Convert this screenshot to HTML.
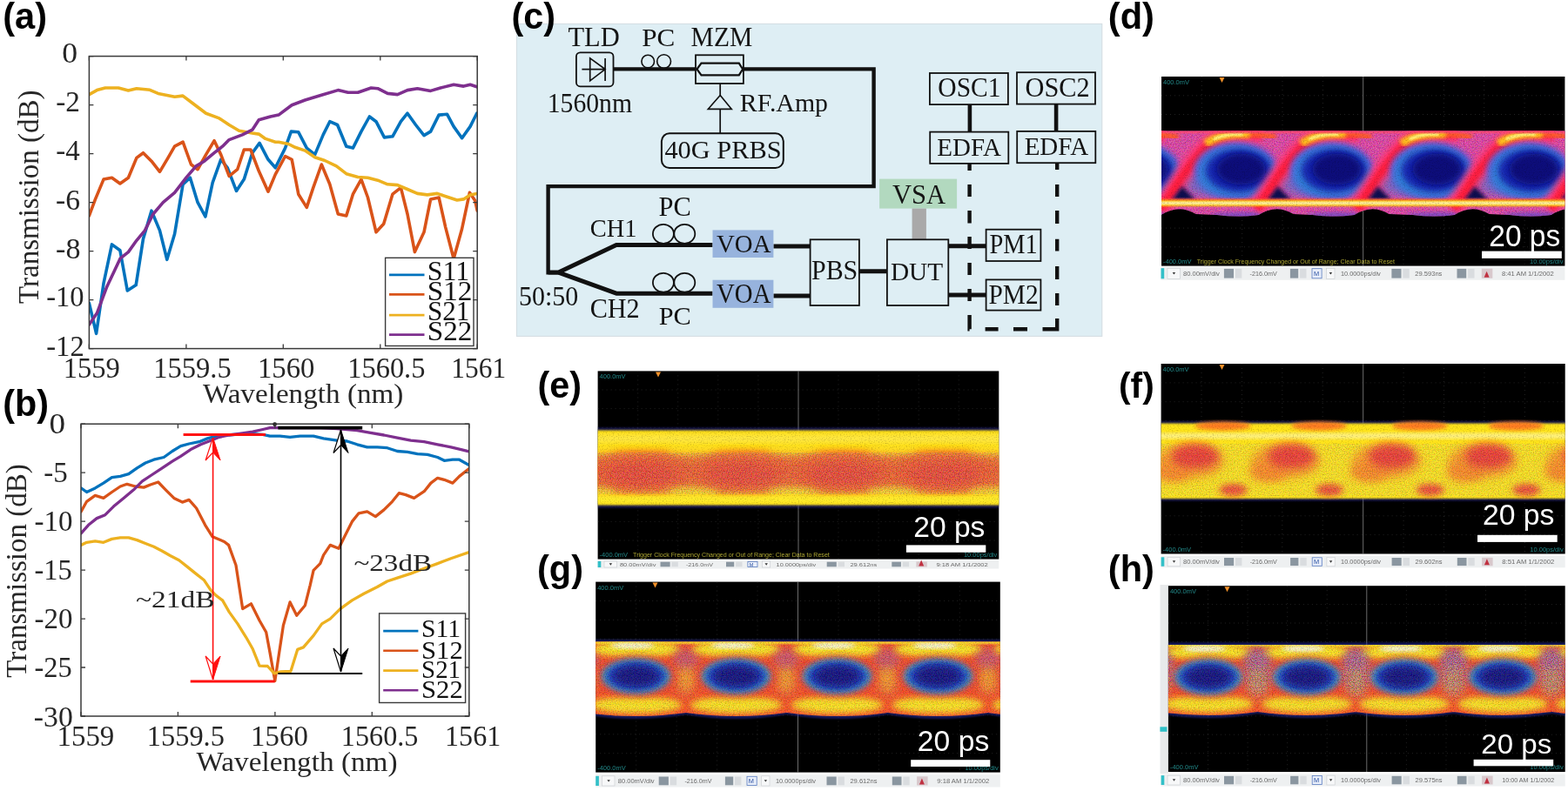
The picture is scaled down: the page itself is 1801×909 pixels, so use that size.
<!DOCTYPE html>
<html><head><meta charset="utf-8"><title>Figure</title>
<style>
html,body{margin:0;padding:0;background:#fff;}
body{width:1801px;height:909px;overflow:hidden;}
svg{display:block;}
</style></head>
<body>
<svg width="1801" height="909" viewBox="0 0 1801 909">
<rect width="1801" height="909" fill="#fff"/>
<defs>
<filter id="b1" x="-20%" y="-20%" width="140%" height="140%"><feGaussianBlur stdDeviation="1.2"/></filter>
<filter id="b2" x="-20%" y="-20%" width="140%" height="140%"><feGaussianBlur stdDeviation="2.2"/></filter>
<filter id="b3" x="-30%" y="-30%" width="160%" height="160%"><feGaussianBlur stdDeviation="3.5"/></filter>
<filter id="b5" x="-30%" y="-30%" width="160%" height="160%"><feGaussianBlur stdDeviation="5"/></filter>
<filter id="nz" x="0" y="0" width="100%" height="100%">
  <feTurbulence type="fractalNoise" baseFrequency="0.75" numOctaves="1" seed="7"/>
  <feColorMatrix type="matrix" values="0 0 0 0 0  0 0 0 0 0  0 0 0 0 0  0 0 0 -3.2 1.55"/>
</filter>
<filter id="cn" x="0" y="0" width="100%" height="100%">
  <feTurbulence type="fractalNoise" baseFrequency="0.85" numOctaves="1" seed="5"/>
  <feColorMatrix type="matrix" values="6 0 0 0 -2.5  0 6 0 0 -2.5  0 0 6 0 -2.5  0 0 0 0 1"/>
  <feComposite in2="SourceAlpha" operator="in"/>
</filter>
<filter id="cns" x="-20%" y="-20%" width="140%" height="140%">
  <feGaussianBlur in="SourceAlpha" stdDeviation="5" result="m"/>
  <feTurbulence type="fractalNoise" baseFrequency="0.85" numOctaves="1" seed="9"/>
  <feColorMatrix type="matrix" values="6 0 0 0 -2.5  0 6 0 0 -2.5  0 0 6 0 -2.5  0 0 0 0 1"/>
  <feComposite in2="m" operator="in"/>
</filter>
<filter id="nzc" x="0" y="0" width="100%" height="100%">
  <feTurbulence type="fractalNoise" baseFrequency="0.7" numOctaves="1" seed="11"/>
  <feColorMatrix type="matrix" values="0 0 0 0 0.25  0 0 0 0 0.85  0 0 0 0 0.9  0 0 0 -4 1.6"/>
</filter>
<clipPath id="clipA"><rect x="102.4" y="64.6" width="445.8" height="336"/></clipPath><clipPath id="clipB"><rect x="93" y="487.2" width="445.8" height="335.8"/></clipPath><clipPath id="clipD"><rect x="1334" y="88" width="463.4" height="217.6"/></clipPath><clipPath id="clipE"><rect x="686.6" y="426.4" width="460.7" height="216.2"/></clipPath><clipPath id="clipF"><rect x="1333.6" y="418" width="464.1" height="218.5"/></clipPath><clipPath id="clipG"><rect x="684.2" y="668.6" width="464.6" height="219.0"/></clipPath><clipPath id="clipH"><rect x="1341.9" y="673.2" width="455.8" height="213.8"/></clipPath><clipPath id="bandD"><path d="M1320,150.5H1810V246L1933.0,246 Q1913.0,234 1893.0,247 Q1870.0,250 1845.0,247L1821.7,246 Q1801.7,234 1781.7,247 Q1758.7,250 1733.7,247L1710.5,246 Q1690.5,234 1670.5,247 Q1647.5,250 1622.5,247L1595.5,246 Q1575.5,234 1555.5,247 Q1532.5,250 1507.5,247L1485.6,246 Q1465.6,234 1445.6,247 Q1422.6,250 1397.6,247L1373.6,246 Q1353.6,234 1333.6,247 Q1310.6,250 1285.6,247L1320,246Z"/></clipPath></defs>
<g clip-path="url(#clipA)">
<polyline points="102.4,348.4 110.6,383.3 119.0,325.7 128.5,280.9 137.9,287.7 146.3,334.0 156.2,327.6 164.5,274.4 174.0,242.2 183.5,264.9 191.8,298.3 200.6,268.7 210.1,211.8 218.4,204.2 227.1,232.7 235.9,249.0 244.2,209.9 253.7,183.3 261.3,192.8 271.5,219.4 280.3,206.1 289.8,175.7 298.1,164.4 308.0,183.3 316.3,192.8 327.6,170.1 334.4,151.1 342.8,151.8 352.3,170.1 361.7,177.6 371.2,154.9 378.8,139.7 387.6,143.5 397.8,168.2 405.4,170.1 414.9,151.1 424.4,134.0 432.0,139.7 441.4,157.9 450.9,156.8 460.4,139.7 468.0,130.2 477.5,143.5 487.0,155.6 494.6,151.1 504.1,132.1 513.6,131.3 521.1,145.4 530.6,158.7 540.1,145.4 547.7,130.2" fill="none" stroke="#0072BD" stroke-width="3.6" stroke-linejoin="round" stroke-linecap="round"/>
<polyline points="102.4,247.9 109.5,228.9 119.0,206.1 128.5,204.2 137.9,211.0 147.4,204.2 156.9,181.4 164.5,175.7 174.0,185.2 183.5,197.4 193.0,181.4 200.6,168.2 210.1,163.2 219.5,189.0 227.1,194.7 236.6,177.6 246.1,161.7 253.7,177.6 263.2,202.3 272.7,194.7 280.3,172.0 287.9,172.0 297.3,196.6 308.0,220.2 316.3,200.4 327.6,179.5 335.2,183.3 342.8,223.2 352.3,238.4 359.8,215.6 369.3,189.0 378.8,211.8 388.3,246.0 397.8,247.9 405.4,223.2 414.9,206.1 422.5,227.0 432.0,266.8 440.7,257.3 450.9,223.2 460.4,215.6 468.0,246.0 476.4,289.6 487.0,266.8 494.6,228.9 504.1,227.0 511.7,261.1 521.1,297.2 530.6,263.0 539.4,221.3 545.8,230.8 548.2,242.2" fill="none" stroke="#D95319" stroke-width="3.6" stroke-linejoin="round" stroke-linecap="round"/>
<polyline points="102.4,108.6 111.4,103.6 120.9,101.0 136.0,101.0 147.4,104.0 156.9,101.7 172.1,103.3 181.6,107.4 200.6,111.2 210.0,110.1 221.4,118.8 236.6,130.2 251.8,135.9 263.2,143.5 274.6,150.3 289.8,153.0 297.3,154.1 304.9,159.4 316.3,163.2 320.0,163.2 331.4,165.5 339.0,169.3 350.4,173.1 361.7,180.7 373.1,184.5 386.4,190.9 397.8,199.7 411.1,203.5 422.5,204.2 433.9,207.2 445.2,211.8 456.6,212.6 468.0,217.5 479.4,222.4 490.8,223.9 502.2,222.4 513.6,226.2 525.0,230.0 532.5,228.9 540.1,223.9 547.7,222.4" fill="none" stroke="#EDB120" stroke-width="3.6" stroke-linejoin="round" stroke-linecap="round"/>
<polyline points="102.4,373.1 111.4,359.8 122.8,329.4 138.0,297.2 147.4,289.6 156.9,276.3 166.4,264.9 175.9,246.0 187.3,232.7 200.6,221.3 213.9,204.2 225.2,190.9 234.7,185.2 246.1,175.7 255.6,168.2 263.2,160.6 278.4,154.9 289.8,149.2 297.3,137.8 310.6,134.0 320.0,132.1 335.2,120.7 350.4,115.0 369.3,109.3 388.3,103.6 399.7,106.3 411.1,106.3 426.3,101.0 433.9,101.7 445.2,107.4 456.6,108.6 468.0,103.6 479.4,101.7 494.6,104.4 506.0,101.0 521.1,97.2 532.5,99.1 540.1,97.2 547.7,99.8" fill="none" stroke="#7E2F8E" stroke-width="3.6" stroke-linejoin="round" stroke-linecap="round"/>
</g>
<rect x="442.6" y="296.3" width="101.4" height="101.2" fill="#fff" stroke="#3a3a3a" stroke-width="1.4"/>
<line x1="447" y1="315.9" x2="487.5" y2="315.9" stroke="#0072BD" stroke-width="2.6"/>
<line x1="447" y1="338.4" x2="487.5" y2="338.4" stroke="#D95319" stroke-width="2.6"/>
<line x1="447" y1="362.1" x2="487.5" y2="362.1" stroke="#EDB120" stroke-width="2.6"/>
<line x1="447" y1="384.6" x2="487.5" y2="384.6" stroke="#7E2F8E" stroke-width="2.6"/>
<text transform="translate(490.83,321.88) scale(0.9941,1)" font-family='"Liberation Serif", serif' font-weight="normal" font-size="32.09" fill="#111">S11</text>
<text transform="translate(490.74,345.28) scale(1.0359,1)" font-family='"Liberation Serif", serif' font-weight="normal" font-size="32.09" fill="#111">S12</text>
<text transform="translate(490.88,368.09) scale(0.9976,1)" font-family='"Liberation Serif", serif' font-weight="normal" font-size="31.19" fill="#111">S21</text>
<text transform="translate(490.74,391.49) scale(1.0656,1)" font-family='"Liberation Serif", serif' font-weight="normal" font-size="31.19" fill="#111">S22</text>
<rect x="102.4" y="64.6" width="445.80000000000007" height="336.0" fill="none" stroke="#3a3a3a" stroke-width="1.5"/>
<path d="M102.4,64.6h5M548.2,64.6h-5M102.4,120.6h5M548.2,120.6h-5M102.4,176.6h5M548.2,176.6h-5M102.4,232.6h5M548.2,232.6h-5M102.4,288.6h5M548.2,288.6h-5M102.4,344.6h5M548.2,344.6h-5M102.4,400.6h5M548.2,400.6h-5M102.4,400.6v-5M102.4,64.6v5M213.9,400.6v-5M213.9,64.6v5M325.3,400.6v-5M325.3,64.6v5M436.8,400.6v-5M436.8,64.6v5M548.2,400.6v-5M548.2,64.6v5" stroke="#3a3a3a" stroke-width="1.3" fill="none"/>
<text transform="translate(71.17,72.37) scale(1.0810,1)" font-family='"Liberation Serif", serif' font-weight="normal" font-size="33.04" fill="#262626">0</text>
<text transform="translate(64.13,128.20) scale(1.0078,1)" font-family='"Liberation Serif", serif' font-weight="normal" font-size="33.03" fill="#262626">-2</text>
<text transform="translate(64.15,184.30) scale(0.9809,1)" font-family='"Liberation Serif", serif' font-weight="normal" font-size="33.64" fill="#262626">-4</text>
<text transform="translate(64.12,240.96) scale(1.0016,1)" font-family='"Liberation Serif", serif' font-weight="normal" font-size="33.58" fill="#262626">-6</text>
<text transform="translate(64.11,296.77) scale(1.0315,1)" font-family='"Liberation Serif", serif' font-weight="normal" font-size="33.04" fill="#262626">-8</text>
<text transform="translate(53.26,352.37) scale(0.9849,1)" font-family='"Liberation Serif", serif' font-weight="normal" font-size="33.04" fill="#262626">-10</text>
<text transform="translate(53.26,408.60) scale(0.9652,1)" font-family='"Liberation Serif", serif' font-weight="normal" font-size="33.79" fill="#262626">-12</text>
<text transform="translate(72.73,434.06) scale(0.9618,1)" font-family='"Liberation Serif", serif' font-weight="normal" font-size="33.88" fill="#262626">1559</text>
<text transform="translate(176.13,433.90) scale(0.9685,1)" font-family='"Liberation Serif", serif' font-weight="normal" font-size="33.63" fill="#262626">1559.5</text>
<text transform="translate(295.92,434.06) scale(0.9737,1)" font-family='"Liberation Serif", serif' font-weight="normal" font-size="33.63" fill="#262626">1560</text>
<text transform="translate(399.24,433.90) scale(0.9723,1)" font-family='"Liberation Serif", serif' font-weight="normal" font-size="33.38" fill="#262626">1560.5</text>
<text transform="translate(518.33,434.06) scale(0.9276,1)" font-family='"Liberation Serif", serif' font-weight="normal" font-size="33.88" fill="#262626">1561</text>
<text transform="translate(233.00,462.77) scale(1.0446,1)" font-family='"Liberation Serif", serif' font-weight="normal" font-size="31.76" fill="#262626">Wavelength (nm)</text>
<text transform="translate(43.68,348.96) rotate(-90) scale(1.0112,1)" font-family='"Liberation Serif", serif' font-weight="normal" font-size="32.64" fill="#262626">Transmission (dB)</text>
<text transform="translate(3.22,33.16) scale(0.9999,1)" font-family='"Liberation Sans", sans-serif' font-weight="bold" font-size="41.60" fill="#000">(a)</text>
<g clip-path="url(#clipB)">
<polyline points="93.1,560.9 99.6,565.5 109.3,560.9 118.9,555.1 128.5,548.6 138.2,547.4 147.8,544.7 157.4,537.8 167.0,532.0 176.7,528.2 188.2,525.5 197.9,518.5 207.5,512.7 217.1,510.0 228.7,507.7 238.3,503.9 244.1,502.3 255.6,500.0 271.0,499.3 286.5,498.5 301.9,499.3 310.0,501.2 321.6,501.2 333.1,502.3 344.7,501.2 360.1,501.2 371.6,503.9 387.0,506.2 398.6,507.0 410.2,510.8 421.7,513.9 433.3,513.9 444.8,514.7 456.4,518.5 467.9,519.3 479.5,521.6 491.0,522.4 502.6,525.5 510.3,529.3 519.9,528.2 527.6,528.2 538.8,534.5" fill="none" stroke="#0072BD" stroke-width="3.3" stroke-linejoin="round" stroke-linecap="round"/>
<polyline points="93.1,587.9 99.6,576.3 109.3,569.4 118.9,572.4 128.5,565.5 138.2,559.0 145.9,556.3 155.5,559.0 165.1,560.1 172.8,557.0 181.7,554.0 190.2,562.8 199.8,572.4 209.4,577.1 217.1,574.4 225.6,584.0 235.6,603.3 244.1,616.8 257.6,622.5 262.6,626.4 271.0,649.5 278.7,699.6 288.4,693.8 298.0,713.0 305.7,726.5 310.0,749.6 315.8,782.5 319.6,757.3 325.4,718.8 333.1,691.9 340.8,707.3 350.4,695.7 356.2,672.6 360.1,655.3 367.8,647.6 371.6,637.9 379.3,626.4 389.0,630.2 396.7,614.8 404.4,599.4 412.1,589.8 421.7,587.9 431.3,593.6 441.0,585.9 450.6,576.3 458.3,566.7 466.0,568.6 475.6,572.4 487.2,564.7 494.9,555.1 502.6,549.3 510.3,551.3 519.9,555.1 527.6,547.4 538.8,538.5" fill="none" stroke="#D95319" stroke-width="3.3" stroke-linejoin="round" stroke-linecap="round"/>
<polyline points="93.1,626.4 99.6,623.3 109.3,621.8 118.9,623.3 128.5,619.4 138.2,617.9 147.8,617.9 157.4,620.6 167.0,624.5 176.7,628.3 186.3,633.3 195.9,638.7 205.6,643.7 215.2,651.4 224.8,659.1 234.5,666.8 242.2,678.4 247.9,684.2 255.6,689.9 263.3,703.4 273.0,716.9 282.6,732.3 290.3,745.8 298.0,765.1 307.3,765.5 315.0,773.9 322.6,771.9 334.0,771.3 341.7,746.4 348.5,743.9 360.1,730.4 369.7,716.9 379.3,711.1 390.9,699.6 404.4,689.9 417.9,682.2 433.3,674.5 444.8,668.0 456.4,664.1 471.8,659.1 487.2,653.3 502.6,647.6 518.0,641.8 538.8,634.5" fill="none" stroke="#EDB120" stroke-width="3.3" stroke-linejoin="round" stroke-linecap="round"/>
<polyline points="93.1,612.9 101.6,603.3 111.2,595.6 120.8,591.7 130.4,582.1 142.0,572.4 153.6,562.8 163.2,553.2 174.7,545.5 186.3,537.8 197.9,530.1 207.5,524.3 219.0,516.6 230.6,510.8 242.2,506.2 251.8,502.3 263.3,500.0 274.9,498.5 290.3,496.2 301.9,493.5 310.0,491.6 329.3,491.6 348.5,491.6 367.8,491.6 387.0,492.7 410.2,494.6 425.6,497.3 441.0,500.0 456.4,503.1 471.8,506.2 487.2,507.7 502.6,510.8 518.0,513.9 529.6,516.6 538.8,519.0" fill="none" stroke="#7E2F8E" stroke-width="3.3" stroke-linejoin="round" stroke-linecap="round"/>
</g>
<path d="M210.6,499.4H305M218.7,783H315.6" stroke="#ff1010" stroke-width="3" fill="none"/>
<path d="M244.6,503V781" stroke="#ff1010" stroke-width="1.6" fill="none"/>
<path d="M244.6,503L253.1,529L244.6,520Z" fill="#ff1010" stroke="#ff1010" stroke-width="1"/><path d="M244.6,503L236.1,529L244.6,520Z" fill="#fff" stroke="#ff1010" stroke-width="1.2"/>
<path d="M244.6,781L253.1,754L244.6,763Z" fill="#ff1010" stroke="#ff1010" stroke-width="1"/><path d="M244.6,781L236.1,754L244.6,763Z" fill="#fff" stroke="#ff1010" stroke-width="1.2"/>
<path d="M319.4,491.6H416.2" stroke="#000" stroke-width="3.6" fill="none"/>
<path d="M319.4,774H416.2" stroke="#000" stroke-width="2" fill="none"/>
<path d="M391.5,494V772" stroke="#000" stroke-width="1.6" fill="none"/>
<path d="M391.5,494L400.0,520.5L391.5,511.5Z" fill="#000" stroke="#000" stroke-width="1"/><path d="M391.5,494L383.0,520.5L391.5,511.5Z" fill="#fff" stroke="#000" stroke-width="1.2"/>
<path d="M391.5,772L400.0,745L391.5,754Z" fill="#000" stroke="#000" stroke-width="1"/><path d="M391.5,772L383.0,745L391.5,754Z" fill="#fff" stroke="#000" stroke-width="1.2"/>
<circle cx="315.6" cy="487.6" r="2.4" fill="#111"/>
<text transform="translate(156.00,698.12) scale(1.2173,1)" font-family='"Liberation Serif", serif' font-weight="normal" font-size="27.52" fill="#262626">~21dB</text>
<text transform="translate(406.41,655.73) scale(1.2084,1)" font-family='"Liberation Serif", serif' font-weight="normal" font-size="27.38" fill="#262626">~23dB</text>
<rect x="435.6" y="704.9" width="99" height="102.6" fill="#fff" stroke="#3a3a3a" stroke-width="1.4"/>
<line x1="440.2" y1="725.1" x2="480.4" y2="725.1" stroke="#0072BD" stroke-width="2.6"/>
<line x1="440.2" y1="747.8" x2="480.4" y2="747.8" stroke="#D95319" stroke-width="2.6"/>
<line x1="440.2" y1="770.6" x2="480.4" y2="770.6" stroke="#EDB120" stroke-width="2.6"/>
<line x1="440.2" y1="793.3" x2="480.4" y2="793.3" stroke="#7E2F8E" stroke-width="2.6"/>
<text transform="translate(484.08,731.71) scale(1.0331,1)" font-family='"Liberation Serif", serif' font-weight="normal" font-size="28.66" fill="#111">S11</text>
<text transform="translate(484.01,756.70) scale(1.0376,1)" font-family='"Liberation Serif", serif' font-weight="normal" font-size="29.55" fill="#111">S12</text>
<text transform="translate(484.12,779.20) scale(0.9773,1)" font-family='"Liberation Serif", serif' font-weight="normal" font-size="29.55" fill="#111">S21</text>
<text transform="translate(484.01,801.61) scale(1.0756,1)" font-family='"Liberation Serif", serif' font-weight="normal" font-size="28.51" fill="#111">S22</text>
<rect x="93.0" y="487.2" width="445.79999999999995" height="335.8" fill="none" stroke="#3a3a3a" stroke-width="1.5"/>
<path d="M93.0,487.2h5M538.8,487.2h-5M93.0,543.2h5M538.8,543.2h-5M93.0,599.1h5M538.8,599.1h-5M93.0,655.1h5M538.8,655.1h-5M93.0,711.1h5M538.8,711.1h-5M93.0,767.0h5M538.8,767.0h-5M93.0,823.0h5M538.8,823.0h-5M93.0,823.0v-5M93.0,487.2v5M204.4,823.0v-5M204.4,487.2v5M315.9,823.0v-5M315.9,487.2v5M427.3,823.0v-5M427.3,487.2v5M538.8,823.0v-5M538.8,487.2v5" stroke="#3a3a3a" stroke-width="1.3" fill="none"/>
<text transform="translate(56.61,498.45) scale(1.0760,1)" font-family='"Liberation Serif", serif' font-weight="normal" font-size="34.52" fill="#262626">0</text>
<text transform="translate(50.34,553.77) scale(0.9983,1)" font-family='"Liberation Serif", serif' font-weight="normal" font-size="33.08" fill="#262626">-5</text>
<text transform="translate(39.44,610.27) scale(0.9949,1)" font-family='"Liberation Serif", serif' font-weight="normal" font-size="33.19" fill="#262626">-10</text>
<text transform="translate(39.46,666.17) scale(0.9709,1)" font-family='"Liberation Serif", serif' font-weight="normal" font-size="33.43" fill="#262626">-15</text>
<text transform="translate(39.44,722.07) scale(0.9949,1)" font-family='"Liberation Serif", serif' font-weight="normal" font-size="33.19" fill="#262626">-20</text>
<text transform="translate(39.46,777.97) scale(0.9709,1)" font-family='"Liberation Serif", serif' font-weight="normal" font-size="33.43" fill="#262626">-25</text>
<text transform="translate(38.82,834.67) scale(1.0119,1)" font-family='"Liberation Serif", serif' font-weight="normal" font-size="33.33" fill="#262626">-30</text>
<text transform="translate(65.50,856.97) scale(0.9887,1)" font-family='"Liberation Serif", serif' font-weight="normal" font-size="33.28" fill="#262626">1559</text>
<text transform="translate(168.85,856.80) scale(0.9801,1)" font-family='"Liberation Serif", serif' font-weight="normal" font-size="33.04" fill="#262626">1559.5</text>
<text transform="translate(288.11,856.97) scale(0.9944,1)" font-family='"Liberation Serif", serif' font-weight="normal" font-size="33.04" fill="#262626">1560</text>
<text transform="translate(391.86,856.81) scale(0.9828,1)" font-family='"Liberation Serif", serif' font-weight="normal" font-size="32.79" fill="#262626">1560.5</text>
<text transform="translate(511.07,856.97) scale(0.9637,1)" font-family='"Liberation Serif", serif' font-weight="normal" font-size="33.28" fill="#262626">1561</text>
<text transform="translate(225.50,885.83) scale(1.0265,1)" font-family='"Liberation Serif", serif' font-weight="normal" font-size="32.42" fill="#262626">Wavelength (nm)</text>
<text transform="translate(30.19,778.66) rotate(-90) scale(0.9847,1)" font-family='"Liberation Serif", serif' font-weight="normal" font-size="33.52" fill="#262626">Transmission (dB)</text>
<text transform="translate(3.23,478.22) scale(0.9889,1)" font-family='"Liberation Sans", sans-serif' font-weight="bold" font-size="41.82" fill="#000">(b)</text>
<rect x="593.4" y="27.4" width="672.4" height="359" fill="#deeef4" stroke="#d3dce2" stroke-width="1"/>
<path d="M704.5,79.4H799M853.9,79.4H1003.6V214.1H629.6V313.3H642" stroke="#111" stroke-width="4.4" fill="none" stroke-linejoin="miter"/>
<path d="M629.6,313.1H641.5L707.9,281.6H818.5M641.5,313.1L707.9,337.2H818.5" stroke="#111" stroke-width="5.0" fill="none" stroke-linejoin="round"/>
<path d="M888.4,283.1H930.6M888.4,339.9H930.6M986.9,311.7H1018.9M1089.3,282.7H1132.6M1089.3,339H1132.6" stroke="#111" stroke-width="5.0" fill="none"/>
<path d="M1113.9,120.1V151.6M1213.1,119.6V150.9" stroke="#111" stroke-width="4.6" fill="none"/>
<path d="M1113.6,187.9V196M1113.6,212V226M1113.6,242V256.5M1113.6,272V286M1113.6,302V316M1113.6,332V346M1113.6,362V378.3M1214.2,187.2V195M1214.2,212V226M1214.2,242V257M1214.2,274.7V288.6M1214.2,306V321M1214.2,337V351M1214.2,366V380.5M1111.4,378.3H1113.6M1131.6,378.3H1146.6M1164,378.3H1180M1197.5,378.3H1216.4" stroke="#111" stroke-width="4.4" fill="none"/>
<rect x="661.9" y="60.4" width="42.6" height="38.9" rx="4.5" fill="none" stroke="#111" stroke-width="1.8"/>
<path d="M668.4,79.6H695.1M695.1,66.9V92.9M677.7,66.9V92.9L695.1,79.6Z" stroke="#111" stroke-width="1.7" fill="none" stroke-linejoin="miter"/>
<circle cx="744.2" cy="70.6" r="7.3" fill="none" stroke="#111" stroke-width="1.6"/>
<circle cx="762.6" cy="70.6" r="7.9" fill="none" stroke="#111" stroke-width="1.6"/>
<rect x="799" y="63.3" width="54.9" height="32.7" fill="none" stroke="#111" stroke-width="1.8"/>
<path d="M800.5,79.5L805.5,72.6H848.8L853.1,79.5L848.8,86.4H805.5Z" fill="none" stroke="#111" stroke-width="2.2"/>
<path d="M827.2,96V109.5M827.2,125.3V153.3" stroke="#111" stroke-width="1.7" fill="none"/>
<path d="M827.2,109.5L840.2,125.3H813.4Z" stroke="#111" stroke-width="1.7" fill="none" stroke-linejoin="miter"/>
<rect x="759.9" y="153.3" width="139.9" height="39.7" rx="9" fill="none" stroke="#111" stroke-width="2"/>
<rect x="1067.9" y="84" width="90" height="36.1" fill="none" stroke="#111" stroke-width="1.8"/>
<rect x="1168" y="83.2" width="90" height="36.4" fill="none" stroke="#111" stroke-width="1.8"/>
<rect x="1068.2" y="151.6" width="90.1" height="36.3" fill="none" stroke="#111" stroke-width="1.8"/>
<rect x="1168.2" y="150.9" width="90.1" height="36.3" fill="none" stroke="#111" stroke-width="1.8"/>
<rect x="1010.1" y="205.6" width="89" height="34" fill="#b2d9bf"/>
<rect x="1047.6" y="239.6" width="16.3" height="35.5" fill="#a9a9a9"/>
<rect x="818.5" y="264.4" width="69.9" height="31.6" fill="#97b3dd"/>
<rect x="818.5" y="321.7" width="69.9" height="32.1" fill="#97b3dd"/>
<rect x="930.6" y="275.3" width="56.3" height="75.7" fill="none" stroke="#111" stroke-width="1.8"/>
<rect x="1018.9" y="275.3" width="70.4" height="75.7" fill="none" stroke="#111" stroke-width="1.8"/>
<rect x="1132.6" y="263.7" width="62.8" height="36.3" fill="none" stroke="#111" stroke-width="1.8"/>
<rect x="1132.6" y="321.4" width="62.8" height="35.2" fill="none" stroke="#111" stroke-width="1.8"/>
<ellipse cx="761.9" cy="268.8" rx="12.0" ry="11" fill="none" stroke="#111" stroke-width="1.8"/>
<ellipse cx="786.3" cy="268.8" rx="12.0" ry="11" fill="none" stroke="#111" stroke-width="1.8"/>
<ellipse cx="761.9" cy="324.8" rx="12.0" ry="11" fill="none" stroke="#111" stroke-width="1.8"/>
<ellipse cx="786.3" cy="324.8" rx="12.0" ry="11" fill="none" stroke="#111" stroke-width="1.8"/>
<text transform="translate(652.49,52.90) scale(0.9940,1)" font-family='"Liberation Serif", serif' font-weight="normal" font-size="30.69" fill="#141414">TLD</text>
<text transform="translate(737.27,52.70) scale(1.0316,1)" font-family='"Liberation Serif", serif' font-weight="normal" font-size="30.15" fill="#141414">PC</text>
<text transform="translate(793.61,53.00) scale(0.9589,1)" font-family='"Liberation Serif", serif' font-weight="normal" font-size="30.84" fill="#141414">MZM</text>
<text transform="translate(628.78,129.28) scale(0.9397,1)" font-family='"Liberation Serif", serif' font-weight="normal" font-size="31.56" fill="#141414">1560nm</text>
<text transform="translate(849.80,128.14) scale(0.9926,1)" font-family='"Liberation Serif", serif' font-weight="normal" font-size="30.06" fill="#141414">RF.Amp</text>
<text transform="translate(763.39,182.20) scale(1.0011,1)" font-family='"Liberation Serif", serif' font-weight="normal" font-size="30.37" fill="#141414">40G PRBS</text>
<text transform="translate(1077.32,110.99) scale(0.9384,1)" font-family='"Liberation Serif", serif' font-weight="normal" font-size="31.49" fill="#141414">OSC1</text>
<text transform="translate(1177.59,110.58) scale(0.9499,1)" font-family='"Liberation Serif", serif' font-weight="normal" font-size="31.94" fill="#141414">OSC2</text>
<text transform="translate(1076.33,178.60) scale(0.9680,1)" font-family='"Liberation Serif", serif' font-weight="normal" font-size="30.00" fill="#141414">EDFA</text>
<text transform="translate(1176.63,178.00) scale(0.9680,1)" font-family='"Liberation Serif", serif' font-weight="normal" font-size="30.00" fill="#141414">EDFA</text>
<text transform="translate(1024.89,233.52) scale(0.9528,1)" font-family='"Liberation Serif", serif' font-weight="normal" font-size="32.15" fill="#141414">VSA</text>
<text transform="translate(756.49,247.69) scale(0.9773,1)" font-family='"Liberation Serif", serif' font-weight="normal" font-size="31.19" fill="#141414">PC</text>
<text transform="translate(677.86,271.90) scale(0.9432,1)" font-family='"Liberation Serif", serif' font-weight="normal" font-size="30.15" fill="#141414">CH1</text>
<text transform="translate(823.01,290.45) scale(0.9684,1)" font-family='"Liberation Serif", serif' font-weight="normal" font-size="29.78" fill="#141414">VOA</text>
<text transform="translate(823.01,347.84) scale(0.9449,1)" font-family='"Liberation Serif", serif' font-weight="normal" font-size="30.52" fill="#141414">VOA</text>
<text transform="translate(932.00,321.18) scale(0.9462,1)" font-family='"Liberation Serif", serif' font-weight="normal" font-size="31.64" fill="#141414">PBS</text>
<text transform="translate(1022.92,322.00) scale(0.9809,1)" font-family='"Liberation Serif", serif' font-weight="normal" font-size="29.92" fill="#141414">DUT</text>
<text transform="translate(1136.45,290.60) scale(0.9300,1)" font-family='"Liberation Serif", serif' font-weight="normal" font-size="30.61" fill="#141414">PM1</text>
<text transform="translate(1135.52,348.70) scale(0.9405,1)" font-family='"Liberation Serif", serif' font-weight="normal" font-size="31.21" fill="#141414">PM2</text>
<text transform="translate(596.00,351.34) scale(0.9699,1)" font-family='"Liberation Serif", serif' font-weight="normal" font-size="30.88" fill="#141414">50:50</text>
<text transform="translate(677.69,365.49) scale(0.9634,1)" font-family='"Liberation Serif", serif' font-weight="normal" font-size="31.34" fill="#141414">CH2</text>
<text transform="translate(756.69,372.50) scale(0.9954,1)" font-family='"Liberation Serif", serif' font-weight="normal" font-size="30.45" fill="#141414">PC</text>
<text transform="translate(587.53,33.16) scale(0.9935,1)" font-family='"Liberation Sans", sans-serif' font-weight="bold" font-size="41.60" fill="#000">(c)</text>
<rect x="1334" y="88" width="463.4" height="217.6" fill="#000"/>
<path d="M1380.3,88V305.6M1426.7,88V305.6M1473.0,88V305.6M1519.4,88V305.6M1612.0,88V305.6M1658.4,88V305.6M1704.7,88V305.6M1751.1,88V305.6M1334,109.8H1797.4M1334,131.5H1797.4M1334,153.3H1797.4M1334,175.0H1797.4M1334,196.8H1797.4M1334,218.6H1797.4M1334,240.3H1797.4M1334,262.1H1797.4M1334,283.8H1797.4" stroke="#6a6a6a" stroke-width="0.8" stroke-dasharray="1 4" opacity="0.4" fill="none"/>
<path d="M1565.7,88V305.6" stroke="#9a9a9a" stroke-width="1" opacity="0.7"/>
<g clip-path="url(#clipD)">
<g clip-path="url(#bandD)">
<rect x="1329" y="148" width="473.4" height="104" fill="#e43ea6"/>
<rect x="1334" y="148" width="463.4" height="104" filter="url(#cn)" opacity="0.16"/>
<path d="M1221.6,240 C1243.6,208 1259.6,180 1278.6,165 S1310.6,153 1337.6,154" stroke="#ff3a78" stroke-width="22" fill="none" filter="url(#b3)"/>
<path d="M1221.6,240 C1243.6,208 1259.6,180 1278.6,165 S1310.6,153 1337.6,154" stroke="#ff1e3c" stroke-width="10" fill="none" filter="url(#b2)"/>
<ellipse cx="1307.6" cy="197" rx="48" ry="33" fill="#5a58e0" filter="url(#b3)"/>
<ellipse cx="1277.6" cy="213" rx="28" ry="13" fill="#3a7ad8" opacity="0.55" filter="url(#b5)"/>
<ellipse cx="1307.6" cy="197" rx="44" ry="30" fill="#2f8ad8" opacity="0.8" filter="url(#b3)"/>
<ellipse cx="1310.6" cy="196" rx="38" ry="25" fill="#1428b0" filter="url(#b3)"/>
<ellipse cx="1313.6" cy="194.5" rx="28" ry="18" fill="#08107a" filter="url(#b3)"/>
<path d="M1233.6,230 L1245.6,214 L1261.6,230Z" fill="#080a50" filter="url(#b2)"/>
<path d="M1307.6,154 Q1330.6,152 1353.6,158" stroke="#ff5a2a" stroke-width="8" fill="none" filter="url(#b2)"/>
<path d="M1272.6,165 Q1291.6,152 1323.6,154" stroke="#ffc21a" stroke-width="9" fill="none" filter="url(#b2)"/>
<path d="M1281.6,160 Q1297.6,153 1315.6,154.5" stroke="#fff27a" stroke-width="3.5" fill="none" filter="url(#b1)"/>
<ellipse cx="1313.6" cy="247.5" rx="36" ry="3.5" fill="#5a48d0" opacity="0.7" filter="url(#b2)"/>
<path d="M1333.6,240 C1355.6,208 1371.6,180 1390.6,165 S1422.6,153 1449.6,154" stroke="#ff3a78" stroke-width="22" fill="none" filter="url(#b3)"/>
<path d="M1333.6,240 C1355.6,208 1371.6,180 1390.6,165 S1422.6,153 1449.6,154" stroke="#ff1e3c" stroke-width="10" fill="none" filter="url(#b2)"/>
<ellipse cx="1419.6" cy="197" rx="48" ry="33" fill="#5a58e0" filter="url(#b3)"/>
<ellipse cx="1389.6" cy="213" rx="28" ry="13" fill="#3a7ad8" opacity="0.55" filter="url(#b5)"/>
<ellipse cx="1419.6" cy="197" rx="44" ry="30" fill="#2f8ad8" opacity="0.8" filter="url(#b3)"/>
<ellipse cx="1422.6" cy="196" rx="38" ry="25" fill="#1428b0" filter="url(#b3)"/>
<ellipse cx="1425.6" cy="194.5" rx="28" ry="18" fill="#08107a" filter="url(#b3)"/>
<path d="M1345.6,230 L1357.6,214 L1373.6,230Z" fill="#080a50" filter="url(#b2)"/>
<path d="M1419.6,154 Q1442.6,152 1465.6,158" stroke="#ff5a2a" stroke-width="8" fill="none" filter="url(#b2)"/>
<path d="M1384.6,165 Q1403.6,152 1435.6,154" stroke="#ffc21a" stroke-width="9" fill="none" filter="url(#b2)"/>
<path d="M1393.6,160 Q1409.6,153 1427.6,154.5" stroke="#fff27a" stroke-width="3.5" fill="none" filter="url(#b1)"/>
<ellipse cx="1425.6" cy="247.5" rx="36" ry="3.5" fill="#5a48d0" opacity="0.7" filter="url(#b2)"/>
<path d="M1443.5,240 C1465.5,208 1481.5,180 1500.5,165 S1532.5,153 1559.5,154" stroke="#ff3a78" stroke-width="22" fill="none" filter="url(#b3)"/>
<path d="M1443.5,240 C1465.5,208 1481.5,180 1500.5,165 S1532.5,153 1559.5,154" stroke="#ff1e3c" stroke-width="10" fill="none" filter="url(#b2)"/>
<ellipse cx="1529.5" cy="197" rx="48" ry="33" fill="#5a58e0" filter="url(#b3)"/>
<ellipse cx="1499.5" cy="213" rx="28" ry="13" fill="#3a7ad8" opacity="0.55" filter="url(#b5)"/>
<ellipse cx="1529.5" cy="197" rx="44" ry="30" fill="#2f8ad8" opacity="0.8" filter="url(#b3)"/>
<ellipse cx="1532.5" cy="196" rx="38" ry="25" fill="#1428b0" filter="url(#b3)"/>
<ellipse cx="1535.5" cy="194.5" rx="28" ry="18" fill="#08107a" filter="url(#b3)"/>
<path d="M1455.5,230 L1467.5,214 L1483.5,230Z" fill="#080a50" filter="url(#b2)"/>
<path d="M1529.5,154 Q1552.5,152 1575.5,158" stroke="#ff5a2a" stroke-width="8" fill="none" filter="url(#b2)"/>
<path d="M1494.5,165 Q1513.5,152 1545.5,154" stroke="#ffc21a" stroke-width="9" fill="none" filter="url(#b2)"/>
<path d="M1503.5,160 Q1519.5,153 1537.5,154.5" stroke="#fff27a" stroke-width="3.5" fill="none" filter="url(#b1)"/>
<ellipse cx="1535.5" cy="247.5" rx="36" ry="3.5" fill="#5a48d0" opacity="0.7" filter="url(#b2)"/>
<path d="M1558.5,240 C1580.5,208 1596.5,180 1615.5,165 S1647.5,153 1674.5,154" stroke="#ff3a78" stroke-width="22" fill="none" filter="url(#b3)"/>
<path d="M1558.5,240 C1580.5,208 1596.5,180 1615.5,165 S1647.5,153 1674.5,154" stroke="#ff1e3c" stroke-width="10" fill="none" filter="url(#b2)"/>
<ellipse cx="1644.5" cy="197" rx="48" ry="33" fill="#5a58e0" filter="url(#b3)"/>
<ellipse cx="1614.5" cy="213" rx="28" ry="13" fill="#3a7ad8" opacity="0.55" filter="url(#b5)"/>
<ellipse cx="1644.5" cy="197" rx="44" ry="30" fill="#2f8ad8" opacity="0.8" filter="url(#b3)"/>
<ellipse cx="1647.5" cy="196" rx="38" ry="25" fill="#1428b0" filter="url(#b3)"/>
<ellipse cx="1650.5" cy="194.5" rx="28" ry="18" fill="#08107a" filter="url(#b3)"/>
<path d="M1570.5,230 L1582.5,214 L1598.5,230Z" fill="#080a50" filter="url(#b2)"/>
<path d="M1644.5,154 Q1667.5,152 1690.5,158" stroke="#ff5a2a" stroke-width="8" fill="none" filter="url(#b2)"/>
<path d="M1609.5,165 Q1628.5,152 1660.5,154" stroke="#ffc21a" stroke-width="9" fill="none" filter="url(#b2)"/>
<path d="M1618.5,160 Q1634.5,153 1652.5,154.5" stroke="#fff27a" stroke-width="3.5" fill="none" filter="url(#b1)"/>
<ellipse cx="1650.5" cy="247.5" rx="36" ry="3.5" fill="#5a48d0" opacity="0.7" filter="url(#b2)"/>
<path d="M1669.7,240 C1691.7,208 1707.7,180 1726.7,165 S1758.7,153 1785.7,154" stroke="#ff3a78" stroke-width="22" fill="none" filter="url(#b3)"/>
<path d="M1669.7,240 C1691.7,208 1707.7,180 1726.7,165 S1758.7,153 1785.7,154" stroke="#ff1e3c" stroke-width="10" fill="none" filter="url(#b2)"/>
<ellipse cx="1755.7" cy="197" rx="48" ry="33" fill="#5a58e0" filter="url(#b3)"/>
<ellipse cx="1725.7" cy="213" rx="28" ry="13" fill="#3a7ad8" opacity="0.55" filter="url(#b5)"/>
<ellipse cx="1755.7" cy="197" rx="44" ry="30" fill="#2f8ad8" opacity="0.8" filter="url(#b3)"/>
<ellipse cx="1758.7" cy="196" rx="38" ry="25" fill="#1428b0" filter="url(#b3)"/>
<ellipse cx="1761.7" cy="194.5" rx="28" ry="18" fill="#08107a" filter="url(#b3)"/>
<path d="M1681.7,230 L1693.7,214 L1709.7,230Z" fill="#080a50" filter="url(#b2)"/>
<path d="M1755.7,154 Q1778.7,152 1801.7,158" stroke="#ff5a2a" stroke-width="8" fill="none" filter="url(#b2)"/>
<path d="M1720.7,165 Q1739.7,152 1771.7,154" stroke="#ffc21a" stroke-width="9" fill="none" filter="url(#b2)"/>
<path d="M1729.7,160 Q1745.7,153 1763.7,154.5" stroke="#fff27a" stroke-width="3.5" fill="none" filter="url(#b1)"/>
<ellipse cx="1761.7" cy="247.5" rx="36" ry="3.5" fill="#5a48d0" opacity="0.7" filter="url(#b2)"/>
<path d="M1781.0,240 C1803.0,208 1819.0,180 1838.0,165 S1870.0,153 1897.0,154" stroke="#ff3a78" stroke-width="22" fill="none" filter="url(#b3)"/>
<path d="M1781.0,240 C1803.0,208 1819.0,180 1838.0,165 S1870.0,153 1897.0,154" stroke="#ff1e3c" stroke-width="10" fill="none" filter="url(#b2)"/>
<ellipse cx="1867.0" cy="197" rx="48" ry="33" fill="#5a58e0" filter="url(#b3)"/>
<ellipse cx="1837.0" cy="213" rx="28" ry="13" fill="#3a7ad8" opacity="0.55" filter="url(#b5)"/>
<ellipse cx="1867.0" cy="197" rx="44" ry="30" fill="#2f8ad8" opacity="0.8" filter="url(#b3)"/>
<ellipse cx="1870.0" cy="196" rx="38" ry="25" fill="#1428b0" filter="url(#b3)"/>
<ellipse cx="1873.0" cy="194.5" rx="28" ry="18" fill="#08107a" filter="url(#b3)"/>
<path d="M1793.0,230 L1805.0,214 L1821.0,230Z" fill="#080a50" filter="url(#b2)"/>
<path d="M1867.0,154 Q1890.0,152 1913.0,158" stroke="#ff5a2a" stroke-width="8" fill="none" filter="url(#b2)"/>
<path d="M1832.0,165 Q1851.0,152 1883.0,154" stroke="#ffc21a" stroke-width="9" fill="none" filter="url(#b2)"/>
<path d="M1841.0,160 Q1857.0,153 1875.0,154.5" stroke="#fff27a" stroke-width="3.5" fill="none" filter="url(#b1)"/>
<ellipse cx="1873.0" cy="247.5" rx="36" ry="3.5" fill="#5a48d0" opacity="0.7" filter="url(#b2)"/>
<rect x="1329" y="150" width="473.4" height="3" fill="#ff4a70" filter="url(#b1)"/>
<rect x="1329" y="228.5" width="473.4" height="3" fill="#ff4a3a" filter="url(#b1)"/>
<rect x="1329" y="230" width="473.4" height="7" fill="#ffd010" filter="url(#b1)"/>
<rect x="1329" y="232.2" width="473.4" height="2.4" fill="#fffbe0" filter="url(#b1)"/>
<rect x="1334" y="148" width="463.4" height="104.0" filter="url(#nz)" opacity="0.22"/>
</g></g>
<path d="M1400.5,89h6l-3,6z" fill="#f0902a"/>
<text x="1336" y="97" font-family="Liberation Sans, sans-serif" font-size="7.5" fill="#2aa7a7" opacity="0.8">400.0mV</text>
<text x="1336" y="302.6" font-family="Liberation Sans, sans-serif" font-size="7.5" fill="#2aa7a7" opacity="0.8">-400.0mV</text>
<text x="1795.4" y="302.6" text-anchor="end" font-family="Liberation Sans, sans-serif" font-size="7.5" fill="#2aa7a7" opacity="0.8">10.00ps/div</text>
<text x="1374.8" y="302.6" font-family="Liberation Sans, sans-serif" font-size="7.6" fill="#c8c03a" opacity="0.85" textLength="227.1" lengthAdjust="spacingAndGlyphs">Trigger Clock Frequency Changed or Out of Range; Clear Data to Reset</text>
<rect x="1702" y="288.6" width="91.8" height="8.3" fill="#fff"/>
<text transform="translate(1710.33,282.55) scale(0.9419,1)" font-family='"Liberation Sans", sans-serif' font-weight="normal" font-size="35.49" fill="#fff">20 ps</text>
<rect x="1333.5" y="306.7" width="463.9" height="15.1" fill="#eef0f1"/>
<rect x="1333.5" y="308.2" width="3.7" height="12.1" fill="#33c0c8"/>
<rect x="1340.9" y="308.2" width="14.4" height="12.1" fill="#f7f8f9" stroke="#c9ccd0" stroke-width="0.6"/>
<path d="M1346.7,313.1h3.4l-1.7,2.4z" fill="#333"/>
<rect x="1405.9" y="308.9" width="11.1" height="10.7" fill="#8a96a0"/>
<rect x="1418.9" y="308.9" width="7.4" height="10.7" fill="#d9dcdf"/>
<rect x="1481.9" y="308.9" width="9.3" height="10.7" fill="#8a96a0"/>
<rect x="1493.1" y="308.9" width="7.4" height="10.7" fill="#d9dcdf"/>
<rect x="1598.4" y="308.9" width="11.1" height="10.7" fill="#8a96a0"/>
<rect x="1611.4" y="308.9" width="7.4" height="10.7" fill="#d9dcdf"/>
<rect x="1673.5" y="308.9" width="10.7" height="10.7" fill="#8a96a0"/>
<rect x="1686.1" y="308.9" width="7.4" height="10.7" fill="#d9dcdf"/>
<rect x="1507.0" y="308.7" width="11.1" height="11.1" fill="#e8eefa" stroke="#5a7cc0" stroke-width="0.8"/>
<text x="1508.9" y="316.8" font-family="Liberation Sans, sans-serif" font-size="7.4" fill="#2a50a0">M</text>
<rect x="1523.7" y="308.2" width="9.3" height="12.1" fill="#f7f8f9" stroke="#c9ccd0" stroke-width="0.6"/>
<path d="M1526.7,313.1h3.4l-1.7,2.4z" fill="#333"/>
<rect x="1701.8" y="308.7" width="12.5" height="11.1" fill="#d8c8cc"/>
<path d="M1704.6,318.8l3,-7l3,7z" fill="#c03040"/>
<text x="1359.0" y="316.8" font-family="Liberation Sans, sans-serif" font-size="7.4" fill="#6a6a6a" textLength="41.8" lengthAdjust="spacingAndGlyphs">80.00mV/div</text>
<text x="1435.6" y="316.8" font-family="Liberation Sans, sans-serif" font-size="7.4" fill="#6a6a6a" textLength="31.1" lengthAdjust="spacingAndGlyphs">-216.0mV</text>
<text x="1539.9" y="316.8" font-family="Liberation Sans, sans-serif" font-size="7.4" fill="#6a6a6a" textLength="45.9" lengthAdjust="spacingAndGlyphs">10.0000ps/div</text>
<text x="1625.3" y="316.8" font-family="Liberation Sans, sans-serif" font-size="7.4" fill="#6a6a6a" textLength="31.1" lengthAdjust="spacingAndGlyphs">29.593ns</text>
<text x="1725.0" y="316.8" font-family="Liberation Sans, sans-serif" font-size="7.4" fill="#6a6a6a" textLength="59.8" lengthAdjust="spacingAndGlyphs">8:41 AM 1/1/2002</text>
<rect x="686.6" y="426.4" width="460.7" height="216.2" fill="#000"/>
<path d="M732.7,426.4V642.6M778.7,426.4V642.6M824.8,426.4V642.6M870.9,426.4V642.6M963.0,426.4V642.6M1009.1,426.4V642.6M1055.2,426.4V642.6M1101.2,426.4V642.6M686.6,448.0H1147.3M686.6,469.6H1147.3M686.6,491.3H1147.3M686.6,512.9H1147.3M686.6,534.5H1147.3M686.6,556.1H1147.3M686.6,577.7H1147.3M686.6,599.4H1147.3M686.6,621.0H1147.3" stroke="#6a6a6a" stroke-width="0.8" stroke-dasharray="1 4" opacity="0.4" fill="none"/>
<path d="M917.0,426.4V642.6" stroke="#9a9a9a" stroke-width="1" opacity="0.7"/>
<g clip-path="url(#clipE)">
<rect x="681.6" y="491.5" width="470.7" height="92" fill="#2a2aa8" opacity="0.5" filter="url(#b1)"/>
<rect x="681.6" y="494.5" width="470.7" height="86" fill="#ffe014" filter="url(#b1)"/>
<rect x="681.6" y="518" width="470.7" height="50" fill="#fb8a26" filter="url(#b3)"/>
<rect x="681.6" y="528" width="470.7" height="32" fill="#f4602c" opacity="0.8" filter="url(#b5)"/>
<ellipse cx="621" cy="542" rx="58" ry="21" fill="#f4502c" opacity="0.75" filter="url(#b5)"/>
<ellipse cx="621" cy="545" rx="40" ry="13" fill="#ec3a34" opacity="0.6" filter="url(#b5)"/>
<ellipse cx="679" cy="566" rx="30" ry="6" fill="#ffe628" opacity="0.8" filter="url(#b3)"/>
<ellipse cx="679" cy="516" rx="30" ry="6" fill="#ffe628" opacity="0.7" filter="url(#b3)"/>
<ellipse cx="737" cy="542" rx="58" ry="21" fill="#f4502c" opacity="0.75" filter="url(#b5)"/>
<ellipse cx="737" cy="545" rx="40" ry="13" fill="#ec3a34" opacity="0.6" filter="url(#b5)"/>
<ellipse cx="795" cy="566" rx="30" ry="6" fill="#ffe628" opacity="0.8" filter="url(#b3)"/>
<ellipse cx="795" cy="516" rx="30" ry="6" fill="#ffe628" opacity="0.7" filter="url(#b3)"/>
<ellipse cx="853" cy="542" rx="58" ry="21" fill="#f4502c" opacity="0.75" filter="url(#b5)"/>
<ellipse cx="853" cy="545" rx="40" ry="13" fill="#ec3a34" opacity="0.6" filter="url(#b5)"/>
<ellipse cx="911" cy="566" rx="30" ry="6" fill="#ffe628" opacity="0.8" filter="url(#b3)"/>
<ellipse cx="911" cy="516" rx="30" ry="6" fill="#ffe628" opacity="0.7" filter="url(#b3)"/>
<ellipse cx="968" cy="542" rx="58" ry="21" fill="#f4502c" opacity="0.75" filter="url(#b5)"/>
<ellipse cx="968" cy="545" rx="40" ry="13" fill="#ec3a34" opacity="0.6" filter="url(#b5)"/>
<ellipse cx="1026" cy="566" rx="30" ry="6" fill="#ffe628" opacity="0.8" filter="url(#b3)"/>
<ellipse cx="1026" cy="516" rx="30" ry="6" fill="#ffe628" opacity="0.7" filter="url(#b3)"/>
<ellipse cx="1084" cy="542" rx="58" ry="21" fill="#f4502c" opacity="0.75" filter="url(#b5)"/>
<ellipse cx="1084" cy="545" rx="40" ry="13" fill="#ec3a34" opacity="0.6" filter="url(#b5)"/>
<ellipse cx="1142" cy="566" rx="30" ry="6" fill="#ffe628" opacity="0.8" filter="url(#b3)"/>
<ellipse cx="1142" cy="516" rx="30" ry="6" fill="#ffe628" opacity="0.7" filter="url(#b3)"/>
<ellipse cx="1199" cy="542" rx="58" ry="21" fill="#f4502c" opacity="0.75" filter="url(#b5)"/>
<ellipse cx="1199" cy="545" rx="40" ry="13" fill="#ec3a34" opacity="0.6" filter="url(#b5)"/>
<ellipse cx="1257" cy="566" rx="30" ry="6" fill="#ffe628" opacity="0.8" filter="url(#b3)"/>
<ellipse cx="1257" cy="516" rx="30" ry="6" fill="#ffe628" opacity="0.7" filter="url(#b3)"/>
<rect x="686.6" y="520" width="460.7" height="48" filter="url(#cn)" opacity="0.18"/>
<rect x="681.6" y="500" width="470.7" height="8" fill="#fff27a" opacity="0.55" filter="url(#b3)"/>
<rect x="681.6" y="570" width="470.7" height="8" fill="#ffee30" opacity="0.85" filter="url(#b2)"/>
<rect x="686.6" y="488" width="460.7" height="100.0" filter="url(#nz)" opacity="0.2"/>
</g>
<path d="M753,427.4h6l-3,6z" fill="#f0902a"/>
<text x="688.6" y="435.4" font-family="Liberation Sans, sans-serif" font-size="7.5" fill="#2aa7a7" opacity="0.8">400.0mV</text>
<text x="688.6" y="639.6" font-family="Liberation Sans, sans-serif" font-size="7.5" fill="#2aa7a7" opacity="0.8">-400.0mV</text>
<text x="1145.3" y="639.6" text-anchor="end" font-family="Liberation Sans, sans-serif" font-size="7.5" fill="#2aa7a7" opacity="0.8">10.00ps/div</text>
<text x="727.1" y="639.6" font-family="Liberation Sans, sans-serif" font-size="7.6" fill="#c8c03a" opacity="0.85" textLength="225.7" lengthAdjust="spacingAndGlyphs">Trigger Clock Frequency Changed or Out of Range; Clear Data to Reset</text>
<rect x="1040.9" y="626.4" width="91.4" height="8.4" fill="#fff"/>
<text transform="translate(1049.22,617.15) scale(1.0295,1)" font-family='"Liberation Sans", sans-serif' font-weight="normal" font-size="32.64" fill="#fff">20 ps</text>
<rect x="686.6" y="643.5" width="460.7" height="10.0" fill="#eef0f1"/>
<rect x="686.6" y="645.0" width="3.7" height="7.0" fill="#33c0c8"/>
<rect x="694.0" y="645.0" width="14.3" height="7.0" fill="#f7f8f9" stroke="#c9ccd0" stroke-width="0.6"/>
<path d="M699.7,647.3h3.4l-1.7,2.4z" fill="#333"/>
<rect x="758.5" y="645.7" width="11.1" height="5.6" fill="#8a96a0"/>
<rect x="771.4" y="645.7" width="7.4" height="5.6" fill="#d9dcdf"/>
<rect x="834.0" y="645.7" width="9.2" height="5.6" fill="#8a96a0"/>
<rect x="845.1" y="645.7" width="7.4" height="5.6" fill="#d9dcdf"/>
<rect x="949.7" y="645.7" width="11.1" height="5.6" fill="#8a96a0"/>
<rect x="962.6" y="645.7" width="7.4" height="5.6" fill="#d9dcdf"/>
<rect x="1024.3" y="645.7" width="10.6" height="5.6" fill="#8a96a0"/>
<rect x="1036.7" y="645.7" width="7.4" height="5.6" fill="#d9dcdf"/>
<rect x="858.9" y="645.5" width="11.1" height="6.0" fill="#e8eefa" stroke="#5a7cc0" stroke-width="0.8"/>
<text x="860.7" y="651.0" font-family="Liberation Sans, sans-serif" font-size="5.5" fill="#2a50a0">M</text>
<rect x="875.5" y="645.0" width="9.2" height="7.0" fill="#f7f8f9" stroke="#c9ccd0" stroke-width="0.6"/>
<path d="M878.5,647.3h3.4l-1.7,2.4z" fill="#333"/>
<rect x="1052.4" y="645.5" width="12.4" height="6.0" fill="#d8c8cc"/>
<path d="M1055.2,650.5l3,-7l3,7z" fill="#c03040"/>
<text x="711.9" y="651.0" font-family="Liberation Sans, sans-serif" font-size="5.5" fill="#6a6a6a" textLength="41.5" lengthAdjust="spacingAndGlyphs">80.00mV/div</text>
<text x="788.0" y="651.0" font-family="Liberation Sans, sans-serif" font-size="5.5" fill="#6a6a6a" textLength="30.9" lengthAdjust="spacingAndGlyphs">-216.0mV</text>
<text x="891.6" y="651.0" font-family="Liberation Sans, sans-serif" font-size="5.5" fill="#6a6a6a" textLength="45.6" lengthAdjust="spacingAndGlyphs">10.0000ps/div</text>
<text x="976.4" y="651.0" font-family="Liberation Sans, sans-serif" font-size="5.5" fill="#6a6a6a" textLength="30.9" lengthAdjust="spacingAndGlyphs">29.612ns</text>
<text x="1075.4" y="651.0" font-family="Liberation Sans, sans-serif" font-size="5.5" fill="#6a6a6a" textLength="59.4" lengthAdjust="spacingAndGlyphs">9:18 AM 1/1/2002</text>
<rect x="1333.6" y="418" width="464.1" height="218.5" fill="#000"/>
<path d="M1380.0,418V636.5M1426.4,418V636.5M1472.8,418V636.5M1519.2,418V636.5M1612.1,418V636.5M1658.5,418V636.5M1704.9,418V636.5M1751.3,418V636.5M1333.6,439.9H1797.7M1333.6,461.7H1797.7M1333.6,483.6H1797.7M1333.6,505.4H1797.7M1333.6,527.2H1797.7M1333.6,549.1H1797.7M1333.6,571.0H1797.7M1333.6,592.8H1797.7M1333.6,614.6H1797.7" stroke="#6a6a6a" stroke-width="0.8" stroke-dasharray="1 4" opacity="0.4" fill="none"/>
<path d="M1565.7,418V636.5" stroke="#9a9a9a" stroke-width="1" opacity="0.7"/>
<g clip-path="url(#clipF)">
<rect x="1328.6" y="484" width="474.1" height="91.5" fill="#2a2aa8" opacity="0.5" filter="url(#b1)"/>
<rect x="1328.6" y="486.5" width="474.1" height="86.5" fill="#ffe41a" filter="url(#b1)"/>
<rect x="1328.6" y="498" width="474.1" height="6" fill="#fff7b0" opacity="0.75" filter="url(#b2)"/>
<ellipse cx="1292" cy="489.5" rx="32" ry="5" fill="#ff7a22" filter="url(#b2)"/>
<ellipse cx="1254" cy="530" rx="40" ry="20" fill="#ffa020" filter="url(#b5)"/>
<ellipse cx="1234" cy="542" rx="22" ry="12" fill="#ff8a22" filter="url(#b5)"/>
<ellipse cx="1260" cy="524.5" rx="27" ry="14" fill="#f03c30" filter="url(#b5)"/>
<ellipse cx="1304" cy="563" rx="16" ry="7" fill="#f24a30" filter="url(#b3)"/>
<ellipse cx="1404.6" cy="489.5" rx="32" ry="5" fill="#ff7a22" filter="url(#b2)"/>
<ellipse cx="1366.6" cy="530" rx="40" ry="20" fill="#ffa020" filter="url(#b5)"/>
<ellipse cx="1346.6" cy="542" rx="22" ry="12" fill="#ff8a22" filter="url(#b5)"/>
<ellipse cx="1372.6" cy="524.5" rx="27" ry="14" fill="#f03c30" filter="url(#b5)"/>
<ellipse cx="1416.6" cy="563" rx="16" ry="7" fill="#f24a30" filter="url(#b3)"/>
<ellipse cx="1515" cy="489.5" rx="32" ry="5" fill="#ff7a22" filter="url(#b2)"/>
<ellipse cx="1477" cy="530" rx="40" ry="20" fill="#ffa020" filter="url(#b5)"/>
<ellipse cx="1457" cy="542" rx="22" ry="12" fill="#ff8a22" filter="url(#b5)"/>
<ellipse cx="1483" cy="524.5" rx="27" ry="14" fill="#f03c30" filter="url(#b5)"/>
<ellipse cx="1527" cy="563" rx="16" ry="7" fill="#f24a30" filter="url(#b3)"/>
<ellipse cx="1630.8" cy="489.5" rx="32" ry="5" fill="#ff7a22" filter="url(#b2)"/>
<ellipse cx="1592.8" cy="530" rx="40" ry="20" fill="#ffa020" filter="url(#b5)"/>
<ellipse cx="1572.8" cy="542" rx="22" ry="12" fill="#ff8a22" filter="url(#b5)"/>
<ellipse cx="1598.8" cy="524.5" rx="27" ry="14" fill="#f03c30" filter="url(#b5)"/>
<ellipse cx="1642.8" cy="563" rx="16" ry="7" fill="#f24a30" filter="url(#b3)"/>
<ellipse cx="1741.3" cy="489.5" rx="32" ry="5" fill="#ff7a22" filter="url(#b2)"/>
<ellipse cx="1703.3" cy="530" rx="40" ry="20" fill="#ffa020" filter="url(#b5)"/>
<ellipse cx="1683.3" cy="542" rx="22" ry="12" fill="#ff8a22" filter="url(#b5)"/>
<ellipse cx="1709.3" cy="524.5" rx="27" ry="14" fill="#f03c30" filter="url(#b5)"/>
<ellipse cx="1753.3" cy="563" rx="16" ry="7" fill="#f24a30" filter="url(#b3)"/>
<ellipse cx="1854" cy="489.5" rx="32" ry="5" fill="#ff7a22" filter="url(#b2)"/>
<ellipse cx="1816" cy="530" rx="40" ry="20" fill="#ffa020" filter="url(#b5)"/>
<ellipse cx="1796" cy="542" rx="22" ry="12" fill="#ff8a22" filter="url(#b5)"/>
<ellipse cx="1822" cy="524.5" rx="27" ry="14" fill="#f03c30" filter="url(#b5)"/>
<ellipse cx="1866" cy="563" rx="16" ry="7" fill="#f24a30" filter="url(#b3)"/>
<rect x="1333.6" y="510" width="464.1" height="60" filter="url(#cn)" opacity="0.12"/>
<rect x="1333.6" y="480" width="464.1" height="100.0" filter="url(#nz)" opacity="0.2"/>
</g>
<path d="M1400.5,419h6l-3,6z" fill="#f0902a"/>
<text x="1335.6" y="427" font-family="Liberation Sans, sans-serif" font-size="7.5" fill="#2aa7a7" opacity="0.8">400.0mV</text>
<text x="1335.6" y="633.5" font-family="Liberation Sans, sans-serif" font-size="7.5" fill="#2aa7a7" opacity="0.8">-400.0mV</text>
<text x="1795.7" y="633.5" text-anchor="end" font-family="Liberation Sans, sans-serif" font-size="7.5" fill="#2aa7a7" opacity="0.8">10.00ps/div</text>
<rect x="1697" y="614.8" width="91.7" height="8.1" fill="#fff"/>
<text transform="translate(1702.91,603.12) scale(1.0300,1)" font-family='"Liberation Sans", sans-serif' font-weight="normal" font-size="32.75" fill="#fff">20 ps</text>
<rect x="1333.6" y="638.8" width="464.1" height="13.5" fill="#eef0f1"/>
<rect x="1333.6" y="640.3" width="3.7" height="10.5" fill="#33c0c8"/>
<rect x="1341.0" y="640.3" width="14.4" height="10.5" fill="#f7f8f9" stroke="#c9ccd0" stroke-width="0.6"/>
<path d="M1346.8,644.3h3.4l-1.7,2.4z" fill="#333"/>
<rect x="1406.0" y="641.0" width="11.1" height="9.1" fill="#8a96a0"/>
<rect x="1419.0" y="641.0" width="7.4" height="9.1" fill="#d9dcdf"/>
<rect x="1482.1" y="641.0" width="9.3" height="9.1" fill="#8a96a0"/>
<rect x="1493.3" y="641.0" width="7.4" height="9.1" fill="#d9dcdf"/>
<rect x="1598.6" y="641.0" width="11.1" height="9.1" fill="#8a96a0"/>
<rect x="1611.6" y="641.0" width="7.4" height="9.1" fill="#d9dcdf"/>
<rect x="1673.8" y="641.0" width="10.7" height="9.1" fill="#8a96a0"/>
<rect x="1686.3" y="641.0" width="7.4" height="9.1" fill="#d9dcdf"/>
<rect x="1507.2" y="640.8" width="11.1" height="9.5" fill="#e8eefa" stroke="#5a7cc0" stroke-width="0.8"/>
<text x="1509.0" y="648.0" font-family="Liberation Sans, sans-serif" font-size="7.4" fill="#2a50a0">M</text>
<rect x="1523.9" y="640.3" width="9.3" height="10.5" fill="#f7f8f9" stroke="#c9ccd0" stroke-width="0.6"/>
<path d="M1526.9,644.3h3.4l-1.7,2.4z" fill="#333"/>
<rect x="1702.1" y="640.8" width="12.5" height="9.5" fill="#d8c8cc"/>
<path d="M1704.9,649.3l3,-7l3,7z" fill="#c03040"/>
<text x="1359.1" y="648.0" font-family="Liberation Sans, sans-serif" font-size="7.4" fill="#6a6a6a" textLength="41.8" lengthAdjust="spacingAndGlyphs">80.00mV/div</text>
<text x="1435.7" y="648.0" font-family="Liberation Sans, sans-serif" font-size="7.4" fill="#6a6a6a" textLength="31.1" lengthAdjust="spacingAndGlyphs">-216.0mV</text>
<text x="1540.1" y="648.0" font-family="Liberation Sans, sans-serif" font-size="7.4" fill="#6a6a6a" textLength="45.9" lengthAdjust="spacingAndGlyphs">10.0000ps/div</text>
<text x="1625.5" y="648.0" font-family="Liberation Sans, sans-serif" font-size="7.4" fill="#6a6a6a" textLength="31.1" lengthAdjust="spacingAndGlyphs">29.602ns</text>
<text x="1725.3" y="648.0" font-family="Liberation Sans, sans-serif" font-size="7.4" fill="#6a6a6a" textLength="59.9" lengthAdjust="spacingAndGlyphs">8:51 AM 1/1/2002</text>
<rect x="1332.5" y="672" width="9.5" height="217" fill="#e8eaeb"/><rect x="1332.4" y="835.3" width="8" height="5.5" fill="#30c0c8"/>
<rect x="684.2" y="668.6" width="464.6" height="219.0" fill="#000"/>
<path d="M730.7,668.6V887.6M777.1,668.6V887.6M823.6,668.6V887.6M870.0,668.6V887.6M963.0,668.6V887.6M1009.4,668.6V887.6M1055.9,668.6V887.6M1102.3,668.6V887.6M684.2,690.5H1148.8M684.2,712.4H1148.8M684.2,734.3H1148.8M684.2,756.2H1148.8M684.2,778.1H1148.8M684.2,800.0H1148.8M684.2,821.9H1148.8M684.2,843.8H1148.8M684.2,865.7H1148.8" stroke="#6a6a6a" stroke-width="0.8" stroke-dasharray="1 4" opacity="0.4" fill="none"/>
<path d="M916.5,668.6V887.6" stroke="#9a9a9a" stroke-width="1" opacity="0.7"/>
<g clip-path="url(#clipG)">
<path d="M679.2,735H1153.8V821L1250.0,821 Q1192.5,831 1135.0,821L1135.0,821 Q1077.5,831 1020.0,821L1019.0,821 Q961.5,831 904.0,821L903.0,821 Q845.5,831 788.0,821L788.0,821 Q730.5,831 673.0,821L673.0,821 Q615.5,831 558.0,821L679.2,821Z" fill="#2a30b0" opacity="0.55" filter="url(#b1)"/>
<clipPath id="clipGb"><path d="M679.2,737.5H1153.8V819L1250.0,819 Q1192.5,827 1135.0,819L1135.0,819 Q1077.5,827 1020.0,819L1019.0,819 Q961.5,827 904.0,819L903.0,819 Q845.5,827 788.0,819L788.0,819 Q730.5,827 673.0,819L673.0,819 Q615.5,827 558.0,819L679.2,819Z"/></clipPath>
<g clip-path="url(#clipGb)">
<rect x="679.2" y="735" width="474.6" height="95" fill="#fc4a20"/>
<rect x="679.2" y="735" width="474.6" height="5" fill="#ffd81a" filter="url(#b1)"/>
<ellipse cx="615.5" cy="746" rx="50.6" ry="10" fill="#ffe81a" filter="url(#b3)"/>
<ellipse cx="611.5" cy="742" rx="25.3" ry="3.5" fill="#fffbd8" filter="url(#b2)"/>
<ellipse cx="615.5" cy="810" rx="52.9" ry="10" fill="#ffe41a" filter="url(#b3)"/>
<ellipse cx="673.0" cy="780" rx="10.3" ry="16" fill="#ff9a1c" opacity="0.9" filter="url(#b5)"/>
<ellipse cx="673.0" cy="757" rx="15.0" ry="11" fill="#b04a9a" opacity="0.5" filter="url(#b5)"/>
<ellipse cx="615.5" cy="777" rx="46.0" ry="25" fill="#ff2a1a" opacity="0.6" filter="url(#b3)"/>
<ellipse cx="615.5" cy="777" rx="39.7" ry="20" fill="#2c9ccc" filter="url(#b3)"/>
<ellipse cx="615.5" cy="777" rx="34.5" ry="16.5" fill="#1430b8" filter="url(#b3)"/>
<ellipse cx="615.5" cy="777" rx="25.5" ry="11.9" fill="#08107e" filter="url(#b3)"/>
<ellipse cx="730.5" cy="746" rx="50.6" ry="10" fill="#ffe81a" filter="url(#b3)"/>
<ellipse cx="726.5" cy="742" rx="25.3" ry="3.5" fill="#fffbd8" filter="url(#b2)"/>
<ellipse cx="730.5" cy="810" rx="52.9" ry="10" fill="#ffe41a" filter="url(#b3)"/>
<ellipse cx="788.0" cy="780" rx="10.3" ry="16" fill="#ff9a1c" opacity="0.9" filter="url(#b5)"/>
<ellipse cx="788.0" cy="757" rx="15.0" ry="11" fill="#b04a9a" opacity="0.5" filter="url(#b5)"/>
<ellipse cx="730.5" cy="777" rx="46.0" ry="25" fill="#ff2a1a" opacity="0.6" filter="url(#b3)"/>
<ellipse cx="730.5" cy="777" rx="39.7" ry="20" fill="#2c9ccc" filter="url(#b3)"/>
<ellipse cx="730.5" cy="777" rx="34.5" ry="16.5" fill="#1430b8" filter="url(#b3)"/>
<ellipse cx="730.5" cy="777" rx="25.5" ry="11.9" fill="#08107e" filter="url(#b3)"/>
<ellipse cx="845.5" cy="746" rx="50.6" ry="10" fill="#ffe81a" filter="url(#b3)"/>
<ellipse cx="841.5" cy="742" rx="25.3" ry="3.5" fill="#fffbd8" filter="url(#b2)"/>
<ellipse cx="845.5" cy="810" rx="52.9" ry="10" fill="#ffe41a" filter="url(#b3)"/>
<ellipse cx="903.0" cy="780" rx="10.3" ry="16" fill="#ff9a1c" opacity="0.9" filter="url(#b5)"/>
<ellipse cx="903.0" cy="757" rx="15.0" ry="11" fill="#b04a9a" opacity="0.5" filter="url(#b5)"/>
<ellipse cx="845.5" cy="777" rx="46.0" ry="25" fill="#ff2a1a" opacity="0.6" filter="url(#b3)"/>
<ellipse cx="845.5" cy="777" rx="39.7" ry="20" fill="#2c9ccc" filter="url(#b3)"/>
<ellipse cx="845.5" cy="777" rx="34.5" ry="16.5" fill="#1430b8" filter="url(#b3)"/>
<ellipse cx="845.5" cy="777" rx="25.5" ry="11.9" fill="#08107e" filter="url(#b3)"/>
<ellipse cx="961.5" cy="746" rx="50.6" ry="10" fill="#ffe81a" filter="url(#b3)"/>
<ellipse cx="957.5" cy="742" rx="25.3" ry="3.5" fill="#fffbd8" filter="url(#b2)"/>
<ellipse cx="961.5" cy="810" rx="52.9" ry="10" fill="#ffe41a" filter="url(#b3)"/>
<ellipse cx="1019.0" cy="780" rx="10.3" ry="16" fill="#ff9a1c" opacity="0.9" filter="url(#b5)"/>
<ellipse cx="1019.0" cy="757" rx="15.0" ry="11" fill="#b04a9a" opacity="0.5" filter="url(#b5)"/>
<ellipse cx="961.5" cy="777" rx="46.0" ry="25" fill="#ff2a1a" opacity="0.6" filter="url(#b3)"/>
<ellipse cx="961.5" cy="777" rx="39.7" ry="20" fill="#2c9ccc" filter="url(#b3)"/>
<ellipse cx="961.5" cy="777" rx="34.5" ry="16.5" fill="#1430b8" filter="url(#b3)"/>
<ellipse cx="961.5" cy="777" rx="25.5" ry="11.9" fill="#08107e" filter="url(#b3)"/>
<ellipse cx="1077.5" cy="746" rx="50.6" ry="10" fill="#ffe81a" filter="url(#b3)"/>
<ellipse cx="1073.5" cy="742" rx="25.3" ry="3.5" fill="#fffbd8" filter="url(#b2)"/>
<ellipse cx="1077.5" cy="810" rx="52.9" ry="10" fill="#ffe41a" filter="url(#b3)"/>
<ellipse cx="1135.0" cy="780" rx="10.3" ry="16" fill="#ff9a1c" opacity="0.9" filter="url(#b5)"/>
<ellipse cx="1135.0" cy="757" rx="15.0" ry="11" fill="#b04a9a" opacity="0.5" filter="url(#b5)"/>
<ellipse cx="1077.5" cy="777" rx="46.0" ry="25" fill="#ff2a1a" opacity="0.6" filter="url(#b3)"/>
<ellipse cx="1077.5" cy="777" rx="39.7" ry="20" fill="#2c9ccc" filter="url(#b3)"/>
<ellipse cx="1077.5" cy="777" rx="34.5" ry="16.5" fill="#1430b8" filter="url(#b3)"/>
<ellipse cx="1077.5" cy="777" rx="25.5" ry="11.9" fill="#08107e" filter="url(#b3)"/>
<ellipse cx="1192.5" cy="746" rx="50.6" ry="10" fill="#ffe81a" filter="url(#b3)"/>
<ellipse cx="1188.5" cy="742" rx="25.3" ry="3.5" fill="#fffbd8" filter="url(#b2)"/>
<ellipse cx="1192.5" cy="810" rx="52.9" ry="10" fill="#ffe41a" filter="url(#b3)"/>
<ellipse cx="1250.0" cy="780" rx="10.3" ry="16" fill="#ff9a1c" opacity="0.9" filter="url(#b5)"/>
<ellipse cx="1250.0" cy="757" rx="15.0" ry="11" fill="#b04a9a" opacity="0.5" filter="url(#b5)"/>
<ellipse cx="1192.5" cy="777" rx="46.0" ry="25" fill="#ff2a1a" opacity="0.6" filter="url(#b3)"/>
<ellipse cx="1192.5" cy="777" rx="39.7" ry="20" fill="#2c9ccc" filter="url(#b3)"/>
<ellipse cx="1192.5" cy="777" rx="34.5" ry="16.5" fill="#1430b8" filter="url(#b3)"/>
<ellipse cx="1192.5" cy="777" rx="25.5" ry="11.9" fill="#08107e" filter="url(#b3)"/>
<rect x="684.2" y="735" width="464.6" height="96" filter="url(#cn)" opacity="0.12"/>
<ellipse cx="673.0" cy="773" rx="18.4" ry="30" filter="url(#cns)" opacity="0.1"/>
<ellipse cx="788.0" cy="773" rx="18.4" ry="30" filter="url(#cns)" opacity="0.1"/>
<ellipse cx="903.0" cy="773" rx="18.4" ry="30" filter="url(#cns)" opacity="0.1"/>
<ellipse cx="1019.0" cy="773" rx="18.4" ry="30" filter="url(#cns)" opacity="0.1"/>
<ellipse cx="1135.0" cy="773" rx="18.4" ry="30" filter="url(#cns)" opacity="0.1"/>
<ellipse cx="1250.0" cy="773" rx="18.4" ry="30" filter="url(#cns)" opacity="0.1"/>
<rect x="684.2" y="731" width="464.6" height="102.0" filter="url(#nz)" opacity="0.2"/>
</g></g>
<path d="M749.5,669.6h6l-3,6z" fill="#f0902a"/>
<text x="686.2" y="677.6" font-family="Liberation Sans, sans-serif" font-size="7.5" fill="#2aa7a7" opacity="0.8">400.0mV</text>
<text x="686.2" y="884.6" font-family="Liberation Sans, sans-serif" font-size="7.5" fill="#2aa7a7" opacity="0.8">-400.0mV</text>
<text x="1146.8" y="884.6" text-anchor="end" font-family="Liberation Sans, sans-serif" font-size="7.5" fill="#2aa7a7" opacity="0.8">10.00ps/div</text>
<rect x="1046.2" y="873.2" width="91.1" height="7.8" fill="#fff"/>
<text transform="translate(1053.82,863.22) scale(1.0427,1)" font-family='"Liberation Sans", sans-serif' font-weight="normal" font-size="32.31" fill="#fff">20 ps</text>
<rect x="684.2" y="890.3" width="464.6" height="14.2" fill="#eef0f1"/>
<rect x="684.2" y="891.8" width="3.7" height="11.2" fill="#33c0c8"/>
<rect x="691.6" y="891.8" width="14.4" height="11.2" fill="#f7f8f9" stroke="#c9ccd0" stroke-width="0.6"/>
<path d="M697.4,896.2h3.4l-1.7,2.4z" fill="#333"/>
<rect x="756.7" y="892.5" width="11.2" height="9.8" fill="#8a96a0"/>
<rect x="769.7" y="892.5" width="7.4" height="9.8" fill="#d9dcdf"/>
<rect x="832.9" y="892.5" width="9.3" height="9.8" fill="#8a96a0"/>
<rect x="844.0" y="892.5" width="7.4" height="9.8" fill="#d9dcdf"/>
<rect x="949.5" y="892.5" width="11.2" height="9.8" fill="#8a96a0"/>
<rect x="962.5" y="892.5" width="7.4" height="9.8" fill="#d9dcdf"/>
<rect x="1024.8" y="892.5" width="10.7" height="9.8" fill="#8a96a0"/>
<rect x="1037.3" y="892.5" width="7.4" height="9.8" fill="#d9dcdf"/>
<rect x="858.0" y="892.3" width="11.2" height="10.2" fill="#e8eefa" stroke="#5a7cc0" stroke-width="0.8"/>
<text x="859.8" y="899.9" font-family="Liberation Sans, sans-serif" font-size="7.4" fill="#2a50a0">M</text>
<rect x="874.7" y="891.8" width="9.3" height="11.2" fill="#f7f8f9" stroke="#c9ccd0" stroke-width="0.6"/>
<path d="M877.7,896.2h3.4l-1.7,2.4z" fill="#333"/>
<rect x="1053.1" y="892.3" width="12.5" height="10.2" fill="#d8c8cc"/>
<path d="M1055.9,901.5l3,-7l3,7z" fill="#c03040"/>
<text x="709.8" y="899.9" font-family="Liberation Sans, sans-serif" font-size="7.4" fill="#6a6a6a" textLength="41.8" lengthAdjust="spacingAndGlyphs">80.00mV/div</text>
<text x="786.4" y="899.9" font-family="Liberation Sans, sans-serif" font-size="7.4" fill="#6a6a6a" textLength="31.1" lengthAdjust="spacingAndGlyphs">-216.0mV</text>
<text x="890.9" y="899.9" font-family="Liberation Sans, sans-serif" font-size="7.4" fill="#6a6a6a" textLength="46.0" lengthAdjust="spacingAndGlyphs">10.0000ps/div</text>
<text x="976.4" y="899.9" font-family="Liberation Sans, sans-serif" font-size="7.4" fill="#6a6a6a" textLength="31.1" lengthAdjust="spacingAndGlyphs">29.612ns</text>
<text x="1076.3" y="899.9" font-family="Liberation Sans, sans-serif" font-size="7.4" fill="#6a6a6a" textLength="59.9" lengthAdjust="spacingAndGlyphs">9:18 AM 1/1/2002</text>
<rect x="1341.9" y="673.2" width="455.8" height="213.8" fill="#000"/>
<path d="M1387.5,673.2V887.0M1433.1,673.2V887.0M1478.6,673.2V887.0M1524.2,673.2V887.0M1615.4,673.2V887.0M1661.0,673.2V887.0M1706.5,673.2V887.0M1752.1,673.2V887.0M1341.9,694.6H1797.7M1341.9,716.0H1797.7M1341.9,737.3H1797.7M1341.9,758.7H1797.7M1341.9,780.1H1797.7M1341.9,801.5H1797.7M1341.9,822.9H1797.7M1341.9,844.2H1797.7M1341.9,865.6H1797.7" stroke="#6a6a6a" stroke-width="0.8" stroke-dasharray="1 4" opacity="0.4" fill="none"/>
<path d="M1569.8,673.2V887.0" stroke="#9a9a9a" stroke-width="1" opacity="0.7"/>
<g clip-path="url(#clipH)">
<path d="M1336.9,738.5H1802.7V820L1895.8,820 Q1839.2,830 1782.6,820L1782.6,820 Q1726.0,830 1669.4,820L1669.6,820 Q1613.0,830 1556.4,820L1557.6,820 Q1501.0,830 1444.4,820L1444.4,820 Q1387.8,830 1331.2,820L1331.2,820 Q1274.6,830 1218.0,820L1336.9,820Z" fill="#2a30b0" opacity="0.55" filter="url(#b1)"/>
<clipPath id="clipHb"><path d="M1336.9,741.0H1802.7V818L1895.8,818 Q1839.2,826 1782.6,818L1782.6,818 Q1726.0,826 1669.4,818L1669.6,818 Q1613.0,826 1556.4,818L1557.6,818 Q1501.0,826 1444.4,818L1444.4,818 Q1387.8,826 1331.2,818L1331.2,818 Q1274.6,826 1218.0,818L1336.9,818Z"/></clipPath>
<g clip-path="url(#clipHb)">
<rect x="1336.9" y="738.5" width="465.8" height="90.5" fill="#fc4a20"/>
<rect x="1336.9" y="738.5" width="465.8" height="5" fill="#ffd81a" filter="url(#b1)"/>
<ellipse cx="1274.6" cy="749.5" rx="49.8" ry="10" fill="#ffe81a" filter="url(#b3)"/>
<ellipse cx="1270.6" cy="745.5" rx="24.9" ry="3.5" fill="#fffbd8" filter="url(#b2)"/>
<ellipse cx="1274.6" cy="809" rx="52.1" ry="10" fill="#ffe41a" filter="url(#b3)"/>
<ellipse cx="1331.2" cy="781" rx="10.2" ry="16" fill="#ff9a1c" opacity="0.9" filter="url(#b5)"/>
<ellipse cx="1331.2" cy="758" rx="14.7" ry="11" fill="#b04a9a" opacity="0.5" filter="url(#b5)"/>
<ellipse cx="1274.6" cy="778" rx="45.3" ry="25" fill="#ff2a1a" opacity="0.6" filter="url(#b3)"/>
<ellipse cx="1274.6" cy="778" rx="39.1" ry="20" fill="#2c9ccc" filter="url(#b3)"/>
<ellipse cx="1274.6" cy="778" rx="34.0" ry="16.5" fill="#1430b8" filter="url(#b3)"/>
<ellipse cx="1274.6" cy="778" rx="25.1" ry="11.9" fill="#08107e" filter="url(#b3)"/>
<ellipse cx="1387.8" cy="749.5" rx="49.8" ry="10" fill="#ffe81a" filter="url(#b3)"/>
<ellipse cx="1383.8" cy="745.5" rx="24.9" ry="3.5" fill="#fffbd8" filter="url(#b2)"/>
<ellipse cx="1387.8" cy="809" rx="52.1" ry="10" fill="#ffe41a" filter="url(#b3)"/>
<ellipse cx="1444.4" cy="781" rx="10.2" ry="16" fill="#ff9a1c" opacity="0.9" filter="url(#b5)"/>
<ellipse cx="1444.4" cy="758" rx="14.7" ry="11" fill="#b04a9a" opacity="0.5" filter="url(#b5)"/>
<ellipse cx="1387.8" cy="778" rx="45.3" ry="25" fill="#ff2a1a" opacity="0.6" filter="url(#b3)"/>
<ellipse cx="1387.8" cy="778" rx="39.1" ry="20" fill="#2c9ccc" filter="url(#b3)"/>
<ellipse cx="1387.8" cy="778" rx="34.0" ry="16.5" fill="#1430b8" filter="url(#b3)"/>
<ellipse cx="1387.8" cy="778" rx="25.1" ry="11.9" fill="#08107e" filter="url(#b3)"/>
<ellipse cx="1501.0" cy="749.5" rx="49.8" ry="10" fill="#ffe81a" filter="url(#b3)"/>
<ellipse cx="1497.0" cy="745.5" rx="24.9" ry="3.5" fill="#fffbd8" filter="url(#b2)"/>
<ellipse cx="1501.0" cy="809" rx="52.1" ry="10" fill="#ffe41a" filter="url(#b3)"/>
<ellipse cx="1557.6" cy="781" rx="10.2" ry="16" fill="#ff9a1c" opacity="0.9" filter="url(#b5)"/>
<ellipse cx="1557.6" cy="758" rx="14.7" ry="11" fill="#b04a9a" opacity="0.5" filter="url(#b5)"/>
<ellipse cx="1501.0" cy="778" rx="45.3" ry="25" fill="#ff2a1a" opacity="0.6" filter="url(#b3)"/>
<ellipse cx="1501.0" cy="778" rx="39.1" ry="20" fill="#2c9ccc" filter="url(#b3)"/>
<ellipse cx="1501.0" cy="778" rx="34.0" ry="16.5" fill="#1430b8" filter="url(#b3)"/>
<ellipse cx="1501.0" cy="778" rx="25.1" ry="11.9" fill="#08107e" filter="url(#b3)"/>
<ellipse cx="1613.0" cy="749.5" rx="49.8" ry="10" fill="#ffe81a" filter="url(#b3)"/>
<ellipse cx="1609.0" cy="745.5" rx="24.9" ry="3.5" fill="#fffbd8" filter="url(#b2)"/>
<ellipse cx="1613.0" cy="809" rx="52.1" ry="10" fill="#ffe41a" filter="url(#b3)"/>
<ellipse cx="1669.6" cy="781" rx="10.2" ry="16" fill="#ff9a1c" opacity="0.9" filter="url(#b5)"/>
<ellipse cx="1669.6" cy="758" rx="14.7" ry="11" fill="#b04a9a" opacity="0.5" filter="url(#b5)"/>
<ellipse cx="1613.0" cy="778" rx="45.3" ry="25" fill="#ff2a1a" opacity="0.6" filter="url(#b3)"/>
<ellipse cx="1613.0" cy="778" rx="39.1" ry="20" fill="#2c9ccc" filter="url(#b3)"/>
<ellipse cx="1613.0" cy="778" rx="34.0" ry="16.5" fill="#1430b8" filter="url(#b3)"/>
<ellipse cx="1613.0" cy="778" rx="25.1" ry="11.9" fill="#08107e" filter="url(#b3)"/>
<ellipse cx="1726.0" cy="749.5" rx="49.8" ry="10" fill="#ffe81a" filter="url(#b3)"/>
<ellipse cx="1722.0" cy="745.5" rx="24.9" ry="3.5" fill="#fffbd8" filter="url(#b2)"/>
<ellipse cx="1726.0" cy="809" rx="52.1" ry="10" fill="#ffe41a" filter="url(#b3)"/>
<ellipse cx="1782.6" cy="781" rx="10.2" ry="16" fill="#ff9a1c" opacity="0.9" filter="url(#b5)"/>
<ellipse cx="1782.6" cy="758" rx="14.7" ry="11" fill="#b04a9a" opacity="0.5" filter="url(#b5)"/>
<ellipse cx="1726.0" cy="778" rx="45.3" ry="25" fill="#ff2a1a" opacity="0.6" filter="url(#b3)"/>
<ellipse cx="1726.0" cy="778" rx="39.1" ry="20" fill="#2c9ccc" filter="url(#b3)"/>
<ellipse cx="1726.0" cy="778" rx="34.0" ry="16.5" fill="#1430b8" filter="url(#b3)"/>
<ellipse cx="1726.0" cy="778" rx="25.1" ry="11.9" fill="#08107e" filter="url(#b3)"/>
<ellipse cx="1839.2" cy="749.5" rx="49.8" ry="10" fill="#ffe81a" filter="url(#b3)"/>
<ellipse cx="1835.2" cy="745.5" rx="24.9" ry="3.5" fill="#fffbd8" filter="url(#b2)"/>
<ellipse cx="1839.2" cy="809" rx="52.1" ry="10" fill="#ffe41a" filter="url(#b3)"/>
<ellipse cx="1895.8" cy="781" rx="10.2" ry="16" fill="#ff9a1c" opacity="0.9" filter="url(#b5)"/>
<ellipse cx="1895.8" cy="758" rx="14.7" ry="11" fill="#b04a9a" opacity="0.5" filter="url(#b5)"/>
<ellipse cx="1839.2" cy="778" rx="45.3" ry="25" fill="#ff2a1a" opacity="0.6" filter="url(#b3)"/>
<ellipse cx="1839.2" cy="778" rx="39.1" ry="20" fill="#2c9ccc" filter="url(#b3)"/>
<ellipse cx="1839.2" cy="778" rx="34.0" ry="16.5" fill="#1430b8" filter="url(#b3)"/>
<ellipse cx="1839.2" cy="778" rx="25.1" ry="11.9" fill="#08107e" filter="url(#b3)"/>
<rect x="1341.9" y="738.5" width="455.8" height="91.5" filter="url(#cn)" opacity="0.12"/>
<ellipse cx="1331.2" cy="770" rx="17.0" ry="26" fill="#7a5ab8" opacity="0.35" filter="url(#b5)"/>
<ellipse cx="1331.2" cy="774" rx="18.1" ry="30" filter="url(#cns)" opacity="0.28"/>
<ellipse cx="1444.4" cy="770" rx="17.0" ry="26" fill="#7a5ab8" opacity="0.35" filter="url(#b5)"/>
<ellipse cx="1444.4" cy="774" rx="18.1" ry="30" filter="url(#cns)" opacity="0.28"/>
<ellipse cx="1557.6" cy="770" rx="17.0" ry="26" fill="#7a5ab8" opacity="0.35" filter="url(#b5)"/>
<ellipse cx="1557.6" cy="774" rx="18.1" ry="30" filter="url(#cns)" opacity="0.28"/>
<ellipse cx="1669.6" cy="770" rx="17.0" ry="26" fill="#7a5ab8" opacity="0.35" filter="url(#b5)"/>
<ellipse cx="1669.6" cy="774" rx="18.1" ry="30" filter="url(#cns)" opacity="0.28"/>
<ellipse cx="1782.6" cy="770" rx="17.0" ry="26" fill="#7a5ab8" opacity="0.35" filter="url(#b5)"/>
<ellipse cx="1782.6" cy="774" rx="18.1" ry="30" filter="url(#cns)" opacity="0.28"/>
<ellipse cx="1895.8" cy="770" rx="17.0" ry="26" fill="#7a5ab8" opacity="0.35" filter="url(#b5)"/>
<ellipse cx="1895.8" cy="774" rx="18.1" ry="30" filter="url(#cns)" opacity="0.28"/>
<rect x="1341.9" y="734.5" width="455.8" height="97.5" filter="url(#nz)" opacity="0.2"/>
</g></g>
<path d="M1406.5,674.2h6l-3,6z" fill="#f0902a"/>
<text x="1343.9" y="682.2" font-family="Liberation Sans, sans-serif" font-size="7.5" fill="#2aa7a7" opacity="0.8">400.0mV</text>
<text x="1343.9" y="884.0" font-family="Liberation Sans, sans-serif" font-size="7.5" fill="#2aa7a7" opacity="0.8">-400.0mV</text>
<text x="1795.7" y="884.0" text-anchor="end" font-family="Liberation Sans, sans-serif" font-size="7.5" fill="#2aa7a7" opacity="0.8">10.00ps/div</text>
<rect x="1692.6" y="872.8" width="91.6" height="7.5" fill="#fff"/>
<text transform="translate(1701.35,866.38) scale(1.0480,1)" font-family='"Liberation Sans", sans-serif' font-weight="normal" font-size="31.54" fill="#fff">20 ps</text>
<rect x="1333.6" y="889.6" width="464.1" height="13.9" fill="#eef0f1"/>
<rect x="1333.6" y="891.1" width="3.7" height="10.9" fill="#33c0c8"/>
<rect x="1341.0" y="891.1" width="14.4" height="10.9" fill="#f7f8f9" stroke="#c9ccd0" stroke-width="0.6"/>
<path d="M1346.8,895.3h3.4l-1.7,2.4z" fill="#333"/>
<rect x="1406.0" y="891.8" width="11.1" height="9.5" fill="#8a96a0"/>
<rect x="1419.0" y="891.8" width="7.4" height="9.5" fill="#d9dcdf"/>
<rect x="1482.1" y="891.8" width="9.3" height="9.5" fill="#8a96a0"/>
<rect x="1493.3" y="891.8" width="7.4" height="9.5" fill="#d9dcdf"/>
<rect x="1598.6" y="891.8" width="11.1" height="9.5" fill="#8a96a0"/>
<rect x="1611.6" y="891.8" width="7.4" height="9.5" fill="#d9dcdf"/>
<rect x="1673.8" y="891.8" width="10.7" height="9.5" fill="#8a96a0"/>
<rect x="1686.3" y="891.8" width="7.4" height="9.5" fill="#d9dcdf"/>
<rect x="1507.2" y="891.6" width="11.1" height="9.9" fill="#e8eefa" stroke="#5a7cc0" stroke-width="0.8"/>
<text x="1509.0" y="899.0" font-family="Liberation Sans, sans-serif" font-size="7.4" fill="#2a50a0">M</text>
<rect x="1523.9" y="891.1" width="9.3" height="10.9" fill="#f7f8f9" stroke="#c9ccd0" stroke-width="0.6"/>
<path d="M1526.9,895.3h3.4l-1.7,2.4z" fill="#333"/>
<rect x="1702.1" y="891.6" width="12.5" height="9.9" fill="#d8c8cc"/>
<path d="M1704.9,900.5l3,-7l3,7z" fill="#c03040"/>
<text x="1359.1" y="899.0" font-family="Liberation Sans, sans-serif" font-size="7.4" fill="#6a6a6a" textLength="41.8" lengthAdjust="spacingAndGlyphs">80.00mV/div</text>
<text x="1435.7" y="899.0" font-family="Liberation Sans, sans-serif" font-size="7.4" fill="#6a6a6a" textLength="31.1" lengthAdjust="spacingAndGlyphs">-216.0mV</text>
<text x="1540.1" y="899.0" font-family="Liberation Sans, sans-serif" font-size="7.4" fill="#6a6a6a" textLength="45.9" lengthAdjust="spacingAndGlyphs">10.0000ps/div</text>
<text x="1625.5" y="899.0" font-family="Liberation Sans, sans-serif" font-size="7.4" fill="#6a6a6a" textLength="31.1" lengthAdjust="spacingAndGlyphs">29.575ns</text>
<text x="1725.3" y="899.0" font-family="Liberation Sans, sans-serif" font-size="7.4" fill="#6a6a6a" textLength="59.9" lengthAdjust="spacingAndGlyphs">10:00 AM 1/1/2002</text>
<text transform="translate(1272.82,33.16) scale(1.0001,1)" font-family='"Liberation Sans", sans-serif' font-weight="bold" font-size="41.60" fill="#000">(d)</text>
<text transform="translate(617.43,456.76) scale(0.9935,1)" font-family='"Liberation Sans", sans-serif' font-weight="bold" font-size="41.60" fill="#000">(e)</text>
<text transform="translate(1285.07,457.13) scale(0.9851,1)" font-family='"Liberation Sans", sans-serif' font-weight="bold" font-size="41.28" fill="#000">(f)</text>
<text transform="translate(617.03,668.37) scale(0.9859,1)" font-family='"Liberation Sans", sans-serif' font-weight="bold" font-size="42.03" fill="#000">(g)</text>
<text transform="translate(1272.82,668.22) scale(0.9950,1)" font-family='"Liberation Sans", sans-serif' font-weight="bold" font-size="41.82" fill="#000">(h)</text>
</svg>
</body></html>
